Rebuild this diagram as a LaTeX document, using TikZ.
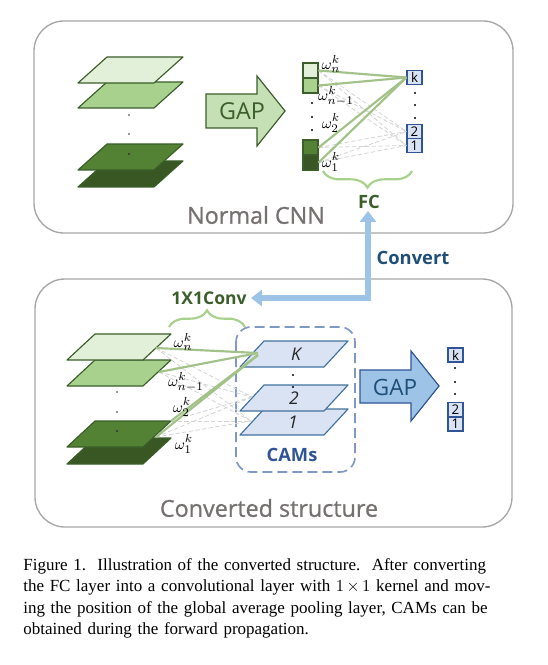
\documentclass[tikz,border=0pt]{standalone}
\usepackage{fontspec}
\setmainfont{Liberation Serif}
\newfontfamily\yh{Open Sans}
\newfontfamily\yhm{Open Sans}[FakeBold=0.9]
\usetikzlibrary{arrows.meta,decorations.pathreplacing}
\definecolor{gA}{HTML}{E2F0D9}
\definecolor{gB}{HTML}{A9D18E}
\definecolor{gC}{HTML}{548235}
\definecolor{gD}{HTML}{385723}
\definecolor{gOut}{HTML}{3B5E2B}
\definecolor{gGap}{HTML}{C5E0B4}
\definecolor{gLine}{HTML}{A3C28A}
\definecolor{gText}{HTML}{3B5E2B}
\definecolor{bFill}{HTML}{DAE3F3}
\definecolor{bOut}{HTML}{2F5597}
\definecolor{bLay}{HTML}{41719C}
\definecolor{bArrow}{HTML}{9DC3E6}
\definecolor{bText}{HTML}{1F4E79}
\definecolor{bDash}{HTML}{7F98C6}
\definecolor{grayText}{HTML}{767171}
\definecolor{boxLine}{HTML}{A6A6A6}
\definecolor{dashGray}{HTML}{D4D4D4}
\newcommand\plate[5]{\filldraw[#5] (#1,#2) -- ++(#3,0) -- ++(-#4,26) -- ++(-#3,0) -- cycle;}
\begin{document}
\begin{tikzpicture}[x=0.6pt,y=-0.6pt,
  panel/.style={draw=boxLine,line width=0.8pt,rounded corners=18pt},
  gplate/.style={draw=gOut,line width=0.7pt,line join=round},
  bplate/.style={draw=bLay,line width=0.7pt,fill=bFill,line join=round},
  cell/.style={draw=gOut,line width=0.7pt,minimum width=9pt,minimum height=9pt,inner sep=0pt},
  outbox/.style={draw=bOut,fill=bFill,line width=0.7pt,minimum width=9pt,minimum height=8.4pt,inner sep=0pt,font=\yh\fontsize{8}{8}\selectfont},
  wline/.style={draw=gLine,line width=1.3pt},
  dline/.style={draw=dashGray,line width=0.5pt,dash pattern=on 2.5pt off 1.5pt},
  wlab/.style={inner sep=0pt,font=\fontsize{9.5}{9.5}\selectfont},
  dotc/.style={circle,fill=#1,inner sep=0pt,minimum size=1.3pt},
  brc/.style={draw=gB,line width=1.3pt,decorate,decoration={brace,amplitude=10pt}},
  conv/.style={draw=bArrow,line width=3.6pt,line join=miter},
]
\useasboundingbox (0,0) rectangle (547,665);
% panels
\draw[panel] (34,21) rectangle (513,233);
\draw[panel] (35,279) rectangle (512,527);

% ---------- top: feature maps ----------
\plate{107}{161}{76}{29}{gplate,fill=gD}
\plate{107}{144}{76}{29}{gplate,fill=gC}
\plate{107}{82}{76}{29}{gplate,fill=gB}
\plate{107}{57}{76}{29}{gplate,fill=gA}
\node[dotc=black!55] (td1) at (129,115) {};
\node[dotc=black!55] (td2) at (129,134) {};
\node[dotc=black!80] (td3) at (129,154) {};

% top GAP arrow
\filldraw[draw=gOut,fill=gGap,line width=0.7pt,line join=miter]
  (206,94) -- (257,94) -- (257,76) -- (285,111) -- (257,146) -- (257,128) -- (206,128) -- cycle;
\node[font=\yh\fontsize{14}{14}\selectfont,text=gText] (gap1) at (242,111) {GAP};

% FC vector cells
\node[cell,fill=gA] (c1) at (310.5,70.5) {};
\node[cell,fill=gB] (c2) at (310.5,85.5) {};
\node[cell,fill=gC] (c3) at (310.5,147.5) {};
\node[cell,fill=gD] (c4) at (310.5,162.5) {};
\node[dotc=black] (cd1) at (312,103) {};
\node[dotc=black] (cd2) at (312,117) {};
\node[dotc=black] (cd3) at (312,130) {};

% output boxes top
\node[outbox] (ok) at (414.5,77.5) {k};
\node[outbox] (o2) at (414.5,131.5) {2};
\node[outbox] (o1) at (414.5,145.5) {1};
\node[dotc=black] (od1) at (415,93) {};
\node[dotc=black] (od2) at (415,105) {};
\node[dotc=black] (od3) at (415,118) {};

% connectors top
\foreach \c in {c1,c2,c3,c4}{
  \draw[dline] (\c.east) -- (o2.west);
  \draw[dline] (\c.east) -- (o1.west);
}
\foreach \c in {c1,c2,c3,c4}{
  \draw[wline] (\c.east) -- (ok.west);
}
\node[wlab] (w1) at (331,64) {$\omega_n^k$};
\node[wlab] (w2) at (336,96) {$\omega_{n-1}^k$};
\node[wlab] (w3) at (331,123) {$\omega_2^k$};
\node[wlab] (w4) at (331,162) {$\omega_1^k$};

% FC brace
\coordinate (fb1) at (412,171);
\coordinate (fb2) at (323,171);
\draw[brc] (fb1) -- (fb2);
\node[font=\yh\bfseries\fontsize{11}{11}\selectfont,text=gText] (fc) at (369,202) {FC};

\node[font=\yhm\fontsize{14}{14}\selectfont,text=grayText] (ncnn) at (256,215) {Normal CNN};

% ---------- convert arrow ----------
\coordinate (cvtop) at (368,211);
\coordinate (cvcorner) at (368,298);
\coordinate (cvleft) at (251,298);
\draw[conv,{Triangle[width=9.5pt,length=6.5pt]}-{Triangle[width=9.5pt,length=6.5pt]}] (cvleft) -- (cvcorner) -- (cvtop);
\node[font=\yh\bfseries\fontsize{11}{11}\selectfont,text=bText] (convert) at (413,258) {Convert};
\node[font=\yh\bfseries\fontsize{10.5}{10.5}\selectfont,text=gText] (conv1) at (209,298) {1X1Conv};
\coordinate (bb1) at (169,327);
\coordinate (bb2) at (245,327);
\draw[brc] (bb1) -- (bb2);

% ---------- bottom ----------
\plate{95}{438}{76}{28}{gplate,fill=gD}
\plate{95}{421}{76}{28}{gplate,fill=gC}
\plate{95}{360}{76}{28}{gplate,fill=gB}
\plate{95}{334}{76}{28}{gplate,fill=gA}
\node[dotc=black!55] (bd1) at (117,392) {};
\node[dotc=black!55] (bd2) at (117,412) {};
\node[dotc=black!80] (bd3) at (117,431) {};

% CAMs
\draw[draw=bDash,line width=1pt,dash pattern=on 6pt off 3pt,rounded corners=9pt] (236,327) rectangle (355,472);
\plate{264}{409}{84}{24}{bplate}
\plate{264}{385}{84}{24}{bplate}
\plate{264}{341}{84}{24}{bplate}
\node[font=\yh\itshape\fontsize{10.5}{10.5}\selectfont,text=black!85] (lK) at (296,354) {K};
\node[font=\yh\itshape\fontsize{10.5}{10.5}\selectfont,text=black!85] (l2) at (294,398) {2};
\node[font=\yh\itshape\fontsize{10.5}{10.5}\selectfont,text=black!85] (l1) at (293,422) {1};
\node[dotc=black] (kd1) at (293,375) {};
\node[dotc=black] (kd2) at (293,387) {};
\node[font=\yh\bfseries\fontsize{11}{11}\selectfont,text=bOut] (cams) at (292,455) {CAMs};

% connectors bottom
\coordinate (s1) at (156,348);
\coordinate (s2) at (159,372);
\coordinate (s3) at (171,421);
\coordinate (s4) at (156,437);
\coordinate (tK1) at (258,353);
\coordinate (tK2) at (258,355);
\coordinate (t2) at (252,397);
\coordinate (t1) at (251,421);
\foreach \s in {s1,s2,s3,s4}{
  \draw[dline] (\s) -- (t2);
  \draw[dline] (\s) -- (t1);
}
\draw[wline] (s1) -- (tK1);
\draw[wline] (s2) -- (tK1);
\draw[wline] (s3) -- (tK2);
\draw[wline] (s4) -- (tK2);
\node[wlab] (bw1) at (183,342) {$\omega_n^k$};
\node[wlab] (bw2) at (186,382) {$\omega_{n-1}^k$};
\node[wlab] (bw3) at (182,407) {$\omega_2^k$};
\node[wlab] (bw4) at (184,444) {$\omega_1^k$};

% bottom GAP arrow
\filldraw[draw=bOut,fill=bArrow,line width=0.7pt,line join=miter]
  (360,370) -- (411,370) -- (411,351) -- (439,386) -- (411,421) -- (411,403) -- (360,403) -- cycle;
\node[font=\yh\fontsize{13.5}{13.5}\selectfont,text=bText] (gap2) at (395,387) {GAP};

\node[outbox] (bk) at (455.5,355) {k};
\node[outbox] (b2) at (455.5,409.5) {2};
\node[outbox] (b1) at (455.5,424) {1};
\node[dotc=black] (bo1) at (455,368) {};
\node[dotc=black] (bo2) at (455,382) {};
\node[dotc=black] (bo3) at (455,394) {};

\node[font=\yhm\fontsize{14}{14}\selectfont,text=grayText] (cstruct) at (269,508) {Converted structure};

% caption
\node[anchor=base west,inner sep=0pt,text width=298pt,font=\fontsize{10.2}{12.9}\selectfont] (cap) at (23,570)
{Figure 1.\ \ Illustration of the converted structure.\ \ After converting\linebreak
the FC layer into a convolutional layer with $1\!\times\!1$ kernel and mov-\linebreak
ing the position of the global average pooling layer, CAMs can be\linebreak
obtained during the forward propagation.};
\end{tikzpicture}
\end{document}
